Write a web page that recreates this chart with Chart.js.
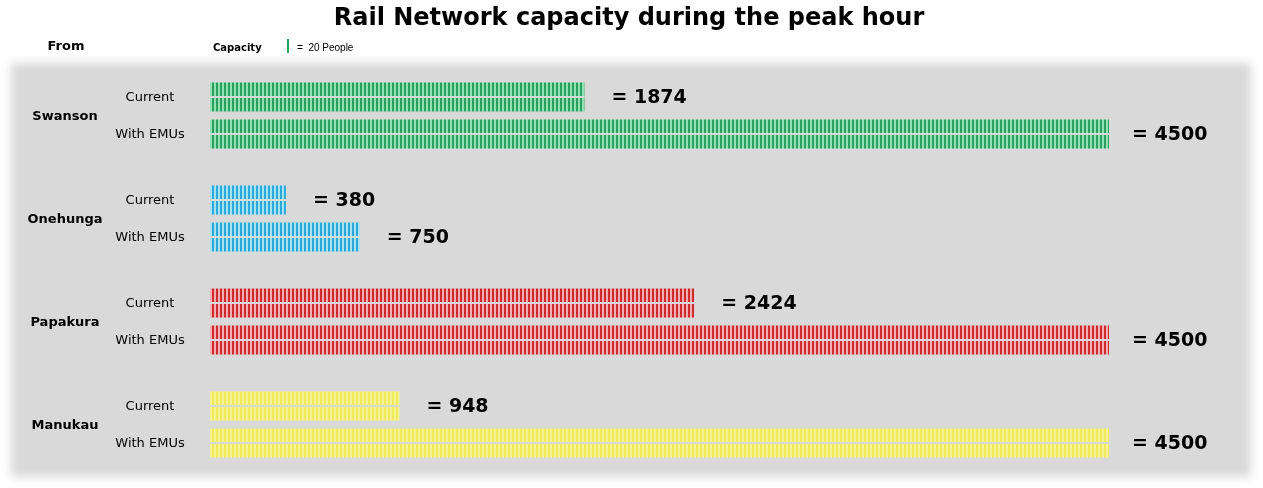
<!DOCTYPE html>
<html>
<head>
<meta charset="utf-8">
<title>Rail Network capacity during the peak hour</title>
<script src="https://cdn.jsdelivr.net/npm/chart.js@4"></script>
<style>
  html, body { margin: 0; padding: 0; background: #fff; }
  #wrap { width: 1263px; height: 488px; position: relative; }
</style>
</head>
<body>
<div id="wrap"><canvas id="railChart" width="1263" height="488"></canvas></div>
<script>
const stations = ['Swanson', 'Onehunga', 'Papakura', 'Manukau'];
const currentCapacity = [1874, 380, 2424, 948];
const emuCapacity = [4500, 750, 4500, 4500];
const seriesNames = ['Current', 'With EMUs'];
const peoplePerMark = 20;

// dark stripe / light stripe for each station
const stripeColours = [
    ['#2e9e5e', '#8fe3b2'],
    ['#2aa8d8', '#a6e1f4'],
    ['#cf2a2f', '#f4b0b0'],
    ['#eeea5c', '#f6f390']
];

function stripes(dark, light) {
    const c = document.createElement('canvas');
    c.width = 4; c.height = 4;
    const g = c.getContext('2d');
    g.fillStyle = light; g.fillRect(0, 0, 4, 4);
    g.fillStyle = dark; g.fillRect(0, 0, 2, 4);
    return g.createPattern(c, 'repeat');
}
const patterns = stripeColours.map(s => stripes(s[0], s[1]));

const panel = {
    id: 'panel',
    beforeDraw(chart) {
        const ctx = chart.ctx;
        ctx.save();
        ctx.fillStyle = '#ffffff';
        ctx.fillRect(0, 0, chart.width, chart.height);
        // soft-edged grey panel
        ctx.filter = 'blur(5px)';
        ctx.fillStyle = '#d9d9d9';
        ctx.fillRect(11, 63, 1240, 414);
        ctx.filter = 'none';
        ctx.fillRect(20, 72, 1222, 396);
        ctx.restore();

        ctx.save();
        ctx.fillStyle = '#000';
        ctx.textBaseline = 'middle';
        ctx.textAlign = 'center';
        ctx.font = 'bold 24px "DejaVu Sans", Verdana, sans-serif';
        ctx.fillText('Rail Network capacity during the peak hour', 629, 19);
        ctx.font = 'bold 13px "DejaVu Sans", Verdana, sans-serif';
        ctx.fillText('From', 66, 47);
        ctx.textAlign = 'left';
        ctx.font = 'bold 10px "DejaVu Sans", Verdana, sans-serif';
        ctx.fillText('Capacity', 213, 48);
        ctx.fillStyle = stripeColours[0][0];
        ctx.fillRect(287, 39, 2, 14);
        ctx.fillStyle = '#000';
        ctx.font = '10px "Liberation Sans", Arial, sans-serif';
        ctx.fillText('=  ' + peoplePerMark + ' People', 297, 48);
        ctx.restore();
    },
    afterDatasetsDraw(chart) {
        const ctx = chart.ctx;
        const yScale = chart.scales.y;
        ctx.save();
        chart.data.datasets.forEach((ds, di) => {
            const meta = chart.getDatasetMeta(di);
            meta.data.forEach((bar, i) => {
                const w = bar.x - bar.base;
                // gap between the two rows of marks
                ctx.fillStyle = '#d9d9d9';
                ctx.fillRect(bar.base, bar.y - 1, w, 2);
                // series label
                ctx.fillStyle = '#000';
                ctx.textBaseline = 'middle';
                ctx.textAlign = 'center';
                ctx.font = '13px "DejaVu Sans", Verdana, sans-serif';
                ctx.fillText(seriesNames[di], 150, bar.y + 1);
                // value label
                ctx.textAlign = 'left';
                ctx.font = 'bold 19px "DejaVu Sans", Verdana, sans-serif';
                const gap = ds.data[i] >= 4500 ? 23 : 27;
                ctx.fillText('= ' + ds.data[i], bar.x + gap, bar.y + 1);
            });
        });
        ctx.font = 'bold 13px "DejaVu Sans", Verdana, sans-serif';
        ctx.textAlign = 'center';
        stations.forEach((s, i) => {
            ctx.fillText(s, 65, yScale.getPixelForValue(i) + 1);
        });
        ctx.restore();
    }
};

new Chart(document.getElementById('railChart'), {
    type: 'bar',
    data: {
        labels: stations,
        datasets: [
            { label: seriesNames[0], data: currentCapacity, backgroundColor: patterns },
            { label: seriesNames[1], data: emuCapacity, backgroundColor: patterns }
        ]
    },
    options: {
        indexAxis: 'y',
        responsive: false,
        animation: false,
        categoryPercentage: 0.718,
        barPercentage: 0.78,
        layout: { padding: { left: 210, right: 154, top: 64, bottom: 12 } },
        scales: {
            x: { display: false, min: 0, max: 4500 },
            y: { display: false }
        },
        plugins: {
            legend: { display: false },
            tooltip: { enabled: false }
        }
    },
    plugins: [panel]
});
</script>
</body>
</html>
